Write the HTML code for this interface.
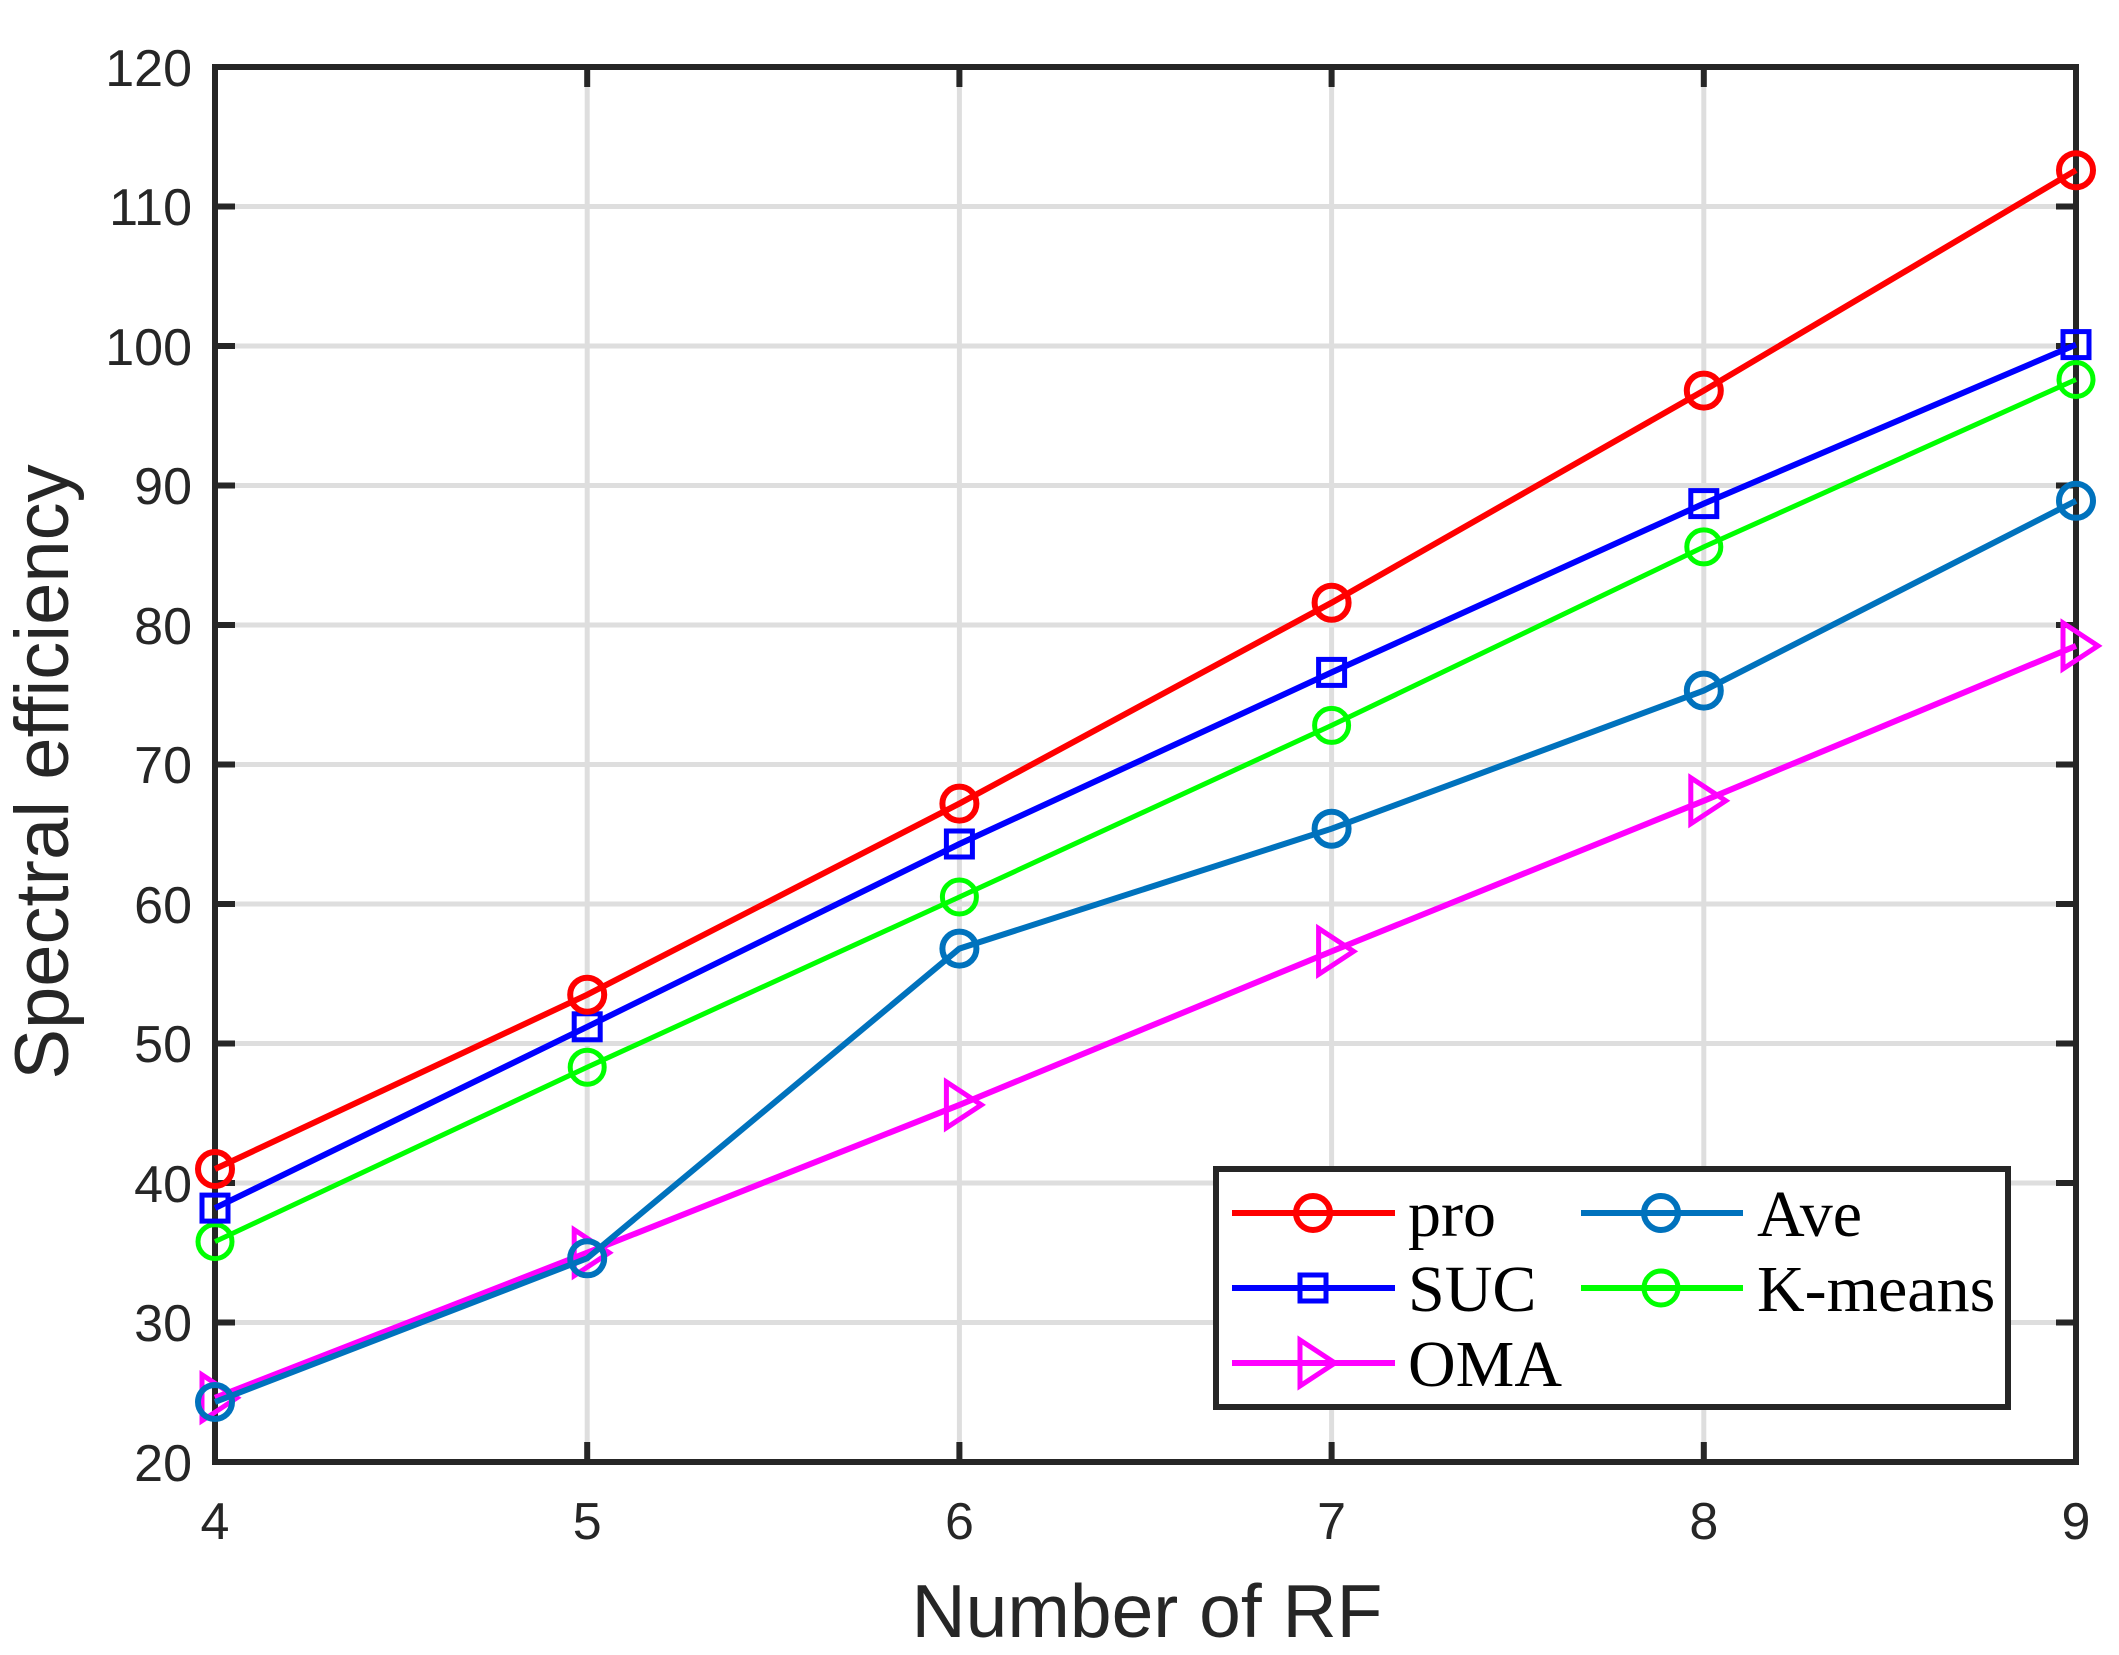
<!DOCTYPE html>
<html><head><meta charset="utf-8"><style>body{margin:0;background:#fff}svg{display:block}</style></head>
<body>
<svg width="2119" height="1655" viewBox="0 0 2119 1655" xmlns="http://www.w3.org/2000/svg">
<rect width="2119" height="1655" fill="#fff"/>
<g stroke="#dedede" stroke-width="5">
<line x1="587.2" y1="67" x2="587.2" y2="1462"/><line x1="959.4" y1="67" x2="959.4" y2="1462"/><line x1="1331.6" y1="67" x2="1331.6" y2="1462"/><line x1="1703.8" y1="67" x2="1703.8" y2="1462"/>
<line x1="215" y1="1322.5" x2="2076" y2="1322.5"/><line x1="215" y1="1183" x2="2076" y2="1183"/><line x1="215" y1="1043.5" x2="2076" y2="1043.5"/><line x1="215" y1="904" x2="2076" y2="904"/><line x1="215" y1="764.5" x2="2076" y2="764.5"/><line x1="215" y1="625" x2="2076" y2="625"/><line x1="215" y1="485.5" x2="2076" y2="485.5"/><line x1="215" y1="346" x2="2076" y2="346"/><line x1="215" y1="206.5" x2="2076" y2="206.5"/>
</g>
<g stroke="#262626" stroke-width="6">
<rect x="215" y="67" width="1861" height="1395" fill="none"/>
<path d="M587.2 1462v-20M959.4 1462v-20M1331.6 1462v-20M1703.8 1462v-20M587.2 67v20M959.4 67v20M1331.6 67v20M1703.8 67v20"/>
<path d="M215 1322.5h20M215 1183h20M215 1043.5h20M215 904h20M215 764.5h20M215 625h20M215 485.5h20M215 346h20M215 206.5h20M2076 1322.5h-20M2076 1183h-20M2076 1043.5h-20M2076 904h-20M2076 764.5h-20M2076 625h-20M2076 485.5h-20M2076 346h-20M2076 206.5h-20"/>
</g>
<g font-family="Liberation Sans, Arial, sans-serif" font-size="52" fill="#262626" text-anchor="end">
<text x="192" y="86">120</text><text x="192" y="225">110</text><text x="192" y="365">100</text><text x="192" y="504">90</text><text x="192" y="644">80</text><text x="192" y="783">70</text><text x="192" y="923">60</text><text x="192" y="1062">50</text><text x="192" y="1202">40</text><text x="192" y="1341">30</text><text x="192" y="1481">20</text>
</g>
<g font-family="Liberation Sans, Arial, sans-serif" font-size="52" fill="#262626" text-anchor="middle">
<text x="215" y="1539">4</text><text x="587.2" y="1539">5</text><text x="959.4" y="1539">6</text><text x="1331.6" y="1539">7</text><text x="1703.8" y="1539">8</text><text x="2076" y="1539">9</text>
<text x="1147" y="1637" font-size="75">Number of RF</text>
<text x="68" y="772" font-size="76" transform="rotate(-90 68 772)">Spectral efficiency</text>
</g>
<g fill="none" stroke-width="6">
<polyline stroke="#ff00ff" points="215,1397.8 587.2,1252.7 959.4,1104.9 1331.6,951.4 1703.8,800.8 2076,645.9"/>
<g stroke="#ff00ff" stroke-width="5"><path d="M202 1374.8L202 1420.8L237 1397.8Z"/><path d="M574.2 1229.7L574.2 1275.7L609.2 1252.7Z"/><path d="M946.4 1081.9L946.4 1127.9L981.4 1104.9Z"/><path d="M1318.6 928.4L1318.6 974.4L1353.6 951.4Z"/><path d="M1690.8 777.8L1690.8 823.8L1725.8 800.8Z"/><path d="M2063 622.9L2063 668.9L2098 645.9Z"/></g>
<polyline stroke="#0072bd" points="215,1402 587.2,1258.3 959.4,948.6 1331.6,828.7 1703.8,690.6 2076,500.8"/>
<g stroke="#0072bd"><circle cx="215" cy="1402" r="17"/><circle cx="587.2" cy="1258.3" r="17"/><circle cx="959.4" cy="948.6" r="17"/><circle cx="1331.6" cy="828.7" r="17"/><circle cx="1703.8" cy="690.6" r="17"/><circle cx="2076" cy="500.8" r="17"/></g>
<polyline stroke="#00ff00" stroke-width="5" points="215,1241.6 587.2,1067.2 959.4,897 1331.6,725.4 1703.8,546.9 2076,379.5"/>
<g stroke="#00ff00" stroke-width="5"><circle cx="215" cy="1241.6" r="17"/><circle cx="587.2" cy="1067.2" r="17"/><circle cx="959.4" cy="897" r="17"/><circle cx="1331.6" cy="725.4" r="17"/><circle cx="1703.8" cy="546.9" r="17"/><circle cx="2076" cy="379.5" r="17"/></g>
<polyline stroke="#0000ff" points="215,1208.1 587.2,1026.8 959.4,844 1331.6,672.4 1703.8,503.6 2076,344.6"/>
<g stroke="#0000ff" stroke-width="5"><rect x="202" y="1195.1" width="26" height="26"/><rect x="574.2" y="1013.8" width="26" height="26"/><rect x="946.4" y="831" width="26" height="26"/><rect x="1318.6" y="659.4" width="26" height="26"/><rect x="1690.8" y="490.6" width="26" height="26"/><rect x="2063" y="331.6" width="26" height="26"/></g>
<polyline stroke="#ff0000" points="215,1169 587.2,994.7 959.4,803.6 1331.6,602.7 1703.8,390.6 2076,170.2"/>
<g stroke="#ff0000"><circle cx="215" cy="1169" r="17"/><circle cx="587.2" cy="994.7" r="17"/><circle cx="959.4" cy="803.6" r="17"/><circle cx="1331.6" cy="602.7" r="17"/><circle cx="1703.8" cy="390.6" r="17"/><circle cx="2076" cy="170.2" r="17"/></g>
</g>
<rect x="1216" y="1169" width="792" height="238" fill="#fff" stroke="#262626" stroke-width="6"/>
<g fill="none" stroke-width="6">
<line x1="1232" y1="1213" x2="1395" y2="1213" stroke="#ff0000"/><circle cx="1313" cy="1213" r="17" stroke="#ff0000" stroke-width="6"/>
<line x1="1232" y1="1288" x2="1395" y2="1288" stroke="#0000ff"/><rect x="1300" y="1275" width="26" height="26" stroke="#0000ff" stroke-width="5"/>
<line x1="1232" y1="1363" x2="1395" y2="1363" stroke="#ff00ff"/><path d="M1300 1340L1300 1386L1335 1363Z" stroke="#ff00ff" stroke-width="5"/>
<line x1="1581" y1="1213" x2="1743" y2="1213" stroke="#0072bd"/><circle cx="1661" cy="1213" r="17" stroke="#0072bd" stroke-width="6"/>
<line x1="1581" y1="1288" x2="1743" y2="1288" stroke="#00ff00"/><circle cx="1661" cy="1288" r="17" stroke="#00ff00" stroke-width="5"/>
</g>
<g font-family="Liberation Serif, 'Times New Roman', serif" font-size="66" fill="#000">
<text x="1408" y="1236">pro</text><text x="1408" y="1311">SUC</text><text x="1408" y="1386">OMA</text>
<text x="1757" y="1236">Ave</text><text x="1757" y="1311">K-means</text>
</g>
</svg>
</body></html>
